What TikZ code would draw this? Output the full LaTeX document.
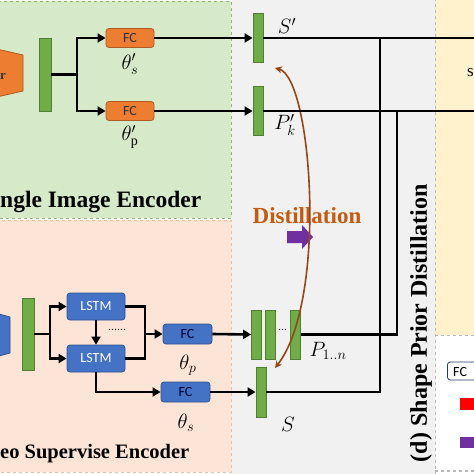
\documentclass[tikz,border=0pt]{standalone}
\usepackage{amsmath, amssymb}
\usepackage{fontspec}
\setmainfont{Liberation Serif}
\newfontfamily\boxfont{Carlito}
\usepackage{tikz}
\usetikzlibrary{positioning, arrows.meta}

\definecolor{zonegreen}{RGB}{214,233,200}
\definecolor{zonegreenline}{RGB}{140,185,120}
\definecolor{zonepeach}{RGB}{252,229,214}
\definecolor{zonepeachline}{RGB}{238,190,160}
\definecolor{zonegray}{RGB}{241,241,241}
\definecolor{zonegrayline}{RGB}{185,185,185}
\definecolor{zoneyellow}{RGB}{255,242,205}
\definecolor{bargreen}{RGB}{112,173,71}
\definecolor{barline}{RGB}{80,126,50}
\definecolor{fcorange}{RGB}{237,125,49}
\definecolor{fcorangeline}{RGB}{174,90,33}
\definecolor{fcblue}{RGB}{68,114,196}
\definecolor{fcblueline}{RGB}{47,82,143}
\definecolor{distbrown}{RGB}{197,90,17}
\definecolor{curvebrown}{RGB}{150,70,20}
\definecolor{distpurple}{RGB}{112,48,160}

\tikzset{
  bar/.style={draw=barline, fill=bargreen, line width=0.8pt, inner sep=0pt, minimum width=10pt},
  fcbox/.style={draw=fcorangeline, fill=fcorange, line width=0.8pt, rounded corners=3pt,
    minimum width=48pt, minimum height=19pt, inner sep=0pt, font=\boxfont\fontsize{14}{14}\selectfont, text=black!80},
  bluebox/.style={draw=fcblueline, fill=fcblue, line width=0.8pt, rounded corners=3pt,
    minimum width=49pt, minimum height=20pt, inner sep=0pt, font=\boxfont\fontsize{14}{14}\selectfont, text=black!80!blue},
  lstmbox/.style={bluebox, minimum width=58pt, minimum height=27pt, text=white},
  wire/.style={line width=2.6pt, black},
  arr/.style={wire, -{Triangle[length=8pt,width=9pt]}},
  mlabel/.style={font=\fontsize{20}{22}\selectfont, inner sep=0pt},
  title/.style={font=\bfseries\fontsize{21}{24}\selectfont, inner sep=0pt},
}

\begin{document}
\begin{tikzpicture}[x=1pt, y=-1pt]
    \useasboundingbox (0,0) rectangle (474,474);
    \clip (0,0) rectangle (474,474);

    % Draw zones
    \fill[zonegray] (231,0) rectangle (435,474);
    \fill[zoneyellow] (435,0) rectangle (480,335);
    \fill[white] (435,335) rectangle (480,474);
    \draw[zonegrayline, dashed, line width=0.8pt] (435,-2) -- (435,474);
    \draw[zonegrayline, dashed, line width=0.8pt] (435,335) -- (480,335);
    \draw[zonegrayline, dashed, line width=1.2pt] (435,471) -- (480,471);
    \filldraw[fill=zonegreen, draw=zonegreenline, dashed, line width=1pt] (-5,1) rectangle (231,218);
    \filldraw[fill=zonepeach, draw=zonepeachline, dashed, line width=1pt] (-5,220) rectangle (231,472);

    % Single image branch
    \filldraw[fill=fcorange, draw=fcorangeline, line width=0.8pt] (-12,47) -- (23,55) -- (23,91) -- (-12,99) -- cycle;
    \node[font=\bfseries\fontsize{13}{13}\selectfont, anchor=west, inner sep=0pt, text=black!80] (encimg) at (0,76) {r};
    \node[bar, minimum width=12pt, minimum height=73pt] (featimg) at (45,74.5) {};
    \coordinate (splitimg) at (77,74.5);
    \node[fcbox] (fcsimg) at (130,38) {FC};
    \node[fcbox] (fcpimg) at (130,111) {FC};
    \node[mlabel] (thsimg) at (130,64) {$\theta'_{s}$};
    \node[mlabel] (thpimg) at (130,137) {$\theta'_{\mathrm{p}}$};
    \node[bar, minimum height=49pt] (Simg) at (258,38) {};
    \node[bar, minimum height=49pt] (Pimg) at (258,111) {};
    \node[mlabel] (Simglab) at (287,26) {$S'$};
    \node[mlabel] (Pimglab) at (285,125) {$P'_k$};
    \node[title, font=\bfseries\fontsize{23.5}{26}\selectfont, anchor=west] (titleimg) at (0,202) {ngle Image Encoder};

    % Video branch
    \filldraw[fill=fcblue, draw=fcblueline, line width=0.8pt] (-12,311) -- (10,317) -- (10,353) -- (-12,359) -- cycle;
    \node[bar, minimum width=12pt, minimum height=72pt] (featvid) at (28,334) {};
    \coordinate (splitvid) at (50,334);
    \node[lstmbox] (lstma) at (96,306.5) {LSTM};
    \node[lstmbox] (lstmb) at (96,358.5) {LSTM};
    \node[inner sep=0pt, font=\fontsize{12}{12}\selectfont] (lstmdots) at (117,330) {......};
    \coordinate (mergevid) at (145,334);
    \node[bluebox] (fcpvid) at (187.5,334) {FC};
    \node[bluebox] (fcsvid) at (185.5,392) {FC};
    \node[mlabel] (thpvid) at (188,365) {$\theta_{p}$};
    \node[mlabel] (thsvid) at (186,423) {$\theta_{s}$};
    \node[bar, minimum height=49pt] (Pvida) at (256.5,334.5) {};
    \node[bar, minimum height=49pt] (Pvidb) at (270.5,334.5) {};
    \node[inner sep=0pt, font=\fontsize{12}{12}\selectfont] (Pviddots) at (282.5,330) {...};
    \node[bar, minimum height=49pt] (Pvidn) at (295.5,334.5) {};
    \node[bar, minimum height=50pt] (Svid) at (261,392) {};
    \node[mlabel] (Pvidlab) at (328,351) {$P_{1..n}$};
    \node[mlabel] (Svidlab) at (288,424) {$S$};
    \node[title, font=\bfseries\fontsize{20.5}{23}\selectfont, anchor=west] (titlevid) at (0,454) {eo Supervise Encoder};

    % Distillation
    \node[font=\bfseries\fontsize{23}{25}\selectfont, text=distbrown, inner sep=0pt] (distlab) at (307,216) {Distillation};
    \fill[distpurple] (287,231) -- (302,231) -- (302,225) -- (313,237) -- (302,249) -- (302,243) -- (287,243) -- cycle;
    \coordinate (disttop) at (275,68);
    \coordinate (distbot) at (275,368);
    \draw[curvebrown, line width=1.6pt, {Stealth[length=7pt,width=7pt]}-{Stealth[length=7pt,width=7pt]}]
      (disttop) .. controls (312,78) and (328,300) .. (distbot);
    \node[title, font=\bfseries\fontsize{24}{26}\selectfont, rotate=90] (titledist) at (421,323) {(d) Shape Prior Distillation};

    % Right edge
    \coordinate (outS) at (480,38);
    \coordinate (outP) at (480,111);
    \coordinate (joinS) at (380,38);
    \coordinate (joinP) at (397,111);
    \node[font=\fontsize{17}{20}\selectfont, anchor=west, inner sep=0pt] (cut) at (467,73) {s};
    \node[draw=fcblueline!70!black, fill=white, line width=0.8pt, rounded corners=3pt,
      minimum width=40pt, minimum height=18pt, anchor=west, inner sep=0pt] (legfc) at (447,371) {};
    \node[font=\boxfont\fontsize{14}{14}\selectfont, anchor=west, inner sep=0pt] (legfctext) at (453,372) {FC};
    \fill[red] (460,398) rectangle (480,410);
    \fill[distpurple] (460,437) rectangle (480,448);

    % Connectors
    \draw[wire] (featimg.east) -- (splitimg);
    \draw[arr] (splitimg) |- (fcsimg.west);
    \draw[arr] (splitimg) |- (fcpimg.west);
    \draw[arr] (fcsimg.east) -- (Simg.west);
    \draw[arr] (fcpimg.east) -- (Pimg.west);
    \draw[wire] (Simg.east) -- (outS);
    \draw[wire] (Pimg.east) -- (outP);

    \draw[wire] (featvid.east) -- (splitvid);
    \draw[arr] (splitvid) |- (lstma.west);
    \draw[arr] (splitvid) |- (lstmb.west);
    \draw[arr] (lstma.south) -- (lstmb.north);
    \draw[wire] (lstma.east) -| (mergevid) |- (lstmb.east);
    \draw[arr] (mergevid) -- (fcpvid.west);
    \draw[arr] (lstmb.south) |- (fcsvid.west);
    \draw[arr] (fcpvid.east) -- (Pvida.west);
    \draw[arr] (fcsvid.east) -- (Svid.west);
    \draw[wire] (Pvidn.east) -| (joinP);
    \draw[wire] (Svid.east) -| (joinS);
\end{tikzpicture}
\end{document}
